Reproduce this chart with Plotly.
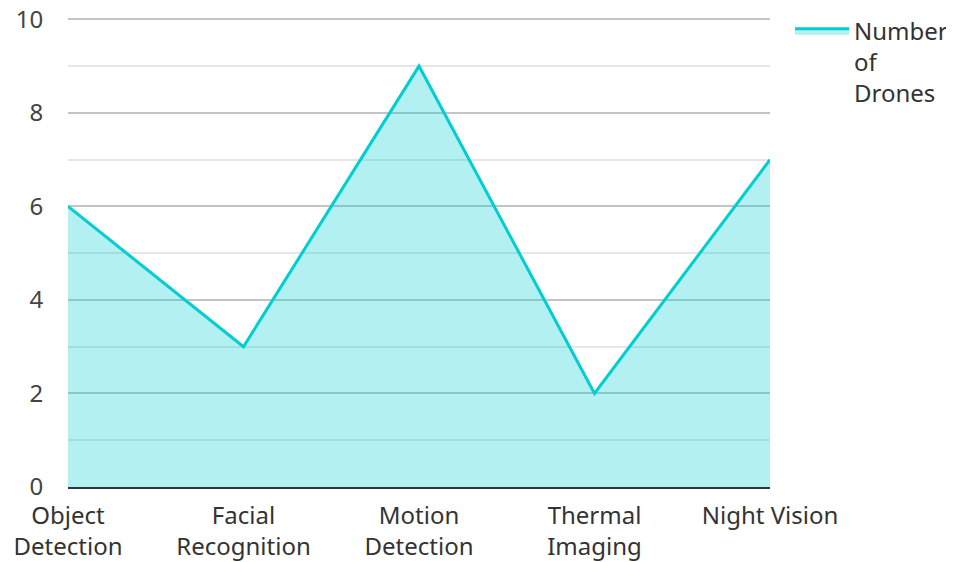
import plotly.graph_objects as go

categories = ["Object<br>Detection", "Facial<br>Recognition", "Motion<br>Detection", "Thermal<br>Imaging", "Night Vision"]
values = [6, 3, 9, 2, 7]
series_name = "Number<br>of<br>Drones"
y_ticks = [0, 2, 4, 6, 8, 10]

fig = go.Figure()
fig.add_trace(go.Scatter(
    x=list(range(len(categories))), y=values, name=series_name,
    mode="lines", fill="tozeroy",
    line=dict(color="#00CED1", width=3),
    fillcolor="rgba(0,206,209,0.3)",
))

font = "Noto Sans"
fig.update_layout(
    width=954, height=562,
    margin=dict(l=60, r=192, t=8.66, b=83, autoexpand=False),
    plot_bgcolor="white", paper_bgcolor="white",
    font=dict(family=font, size=24, color="#333333"),
    showlegend=True,
    legend=dict(x=1.0285, y=1.018, xanchor="left", yanchor="top", valign="top",
                itemwidth=54,
                font=dict(size=24, color="#333333"), bgcolor="rgba(0,0,0,0)"),
    xaxis=dict(
        tickmode="array", tickvals=list(range(len(categories))), ticktext=categories,
        range=[0, len(categories) - 1], showgrid=False, zeroline=False,
        showline=True, linecolor="#333333", linewidth=2,
        ticks="outside", ticklen=6, tickcolor="rgba(0,0,0,0)",
        tickfont=dict(size=24, color="#333333"), automargin=False,
        ticklabeloverflow="allow",
    ),
    yaxis=dict(
        range=[0, 10.05], tickmode="array", tickvals=y_ticks,
        showgrid=True, gridcolor="#C4C4C4", gridwidth=1.5,
        minor=dict(dtick=1, showgrid=True, gridcolor="#E6E6E6", gridwidth=1.5),
        zeroline=False, showline=False,
        ticks="outside", ticklen=19, tickcolor="rgba(0,0,0,0)",
        tickfont=dict(size=24, color="#444444"), automargin=False,
        ticklabeloverflow="allow",
    ),
)

fig.write_html("out.html")
